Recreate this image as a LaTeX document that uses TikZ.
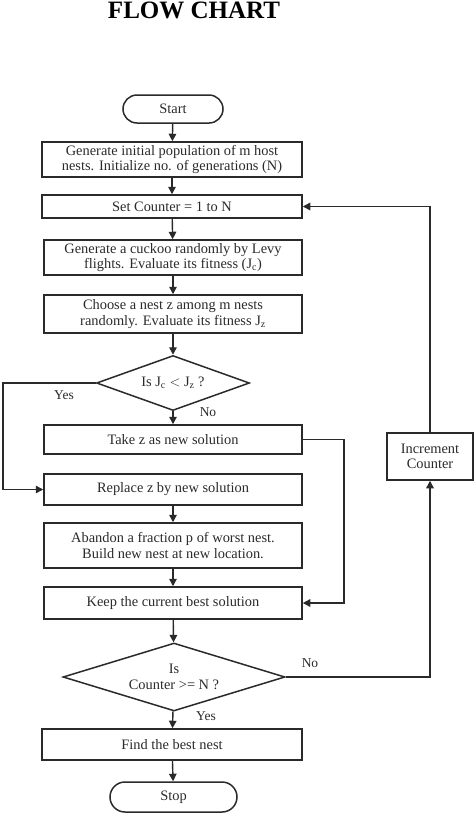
\documentclass[tikz,border=0pt]{standalone}
\usepackage{fontspec}
\setmainfont{Liberation Serif}
\usetikzlibrary{shapes.geometric,shapes.misc,arrows.meta}
\definecolor{ink}{HTML}{2A2A2A}
\begin{document}
\begin{tikzpicture}[x=1pt,y=-1pt,
  every node/.style={text=ink, font=\fontsize{14.4}{15.5}\selectfont},
  box/.style={draw=ink, line width=1.5pt, rectangle, align=center, inner sep=0pt},
  term/.style={draw=ink, line width=1.5pt, rounded rectangle, inner sep=0pt},
  dec/.style={draw=ink, line width=1.5pt, diamond, inner sep=0pt, align=center, aspect=2.8},
  arr/.style={draw=ink, line width=1.4pt, -{Triangle[length=7.5pt,width=7.5pt]}},
  lab/.style={font=\fontsize{13.5}{15}\selectfont}
]
\useasboundingbox (0,0) rectangle (474,815);
\node[font=\fontsize{25}{27}\selectfont\bfseries, text=black, anchor=base] (title) at (194,18) {FLOW CHART};

\node[term, minimum width=100, minimum height=28] (start) at (173,109) {Start};
\node[box, minimum width=260, minimum height=35] (gen) at (172,159.5) {Generate initial population of m host\\nests. Initialize no. of generations (N)};
\node[box, minimum width=260, minimum height=23] (set) at (172,206.5) {Set Counter = 1 to N};
\node[box, minimum width=258, minimum height=35] (cuckoo) at (173,257.5) {Generate a cuckoo randomly by Levy\\flights. Evaluate its fitness (J\textsubscript{c})};
\node[box, minimum width=258, minimum height=38] (choose) at (173,314) {Choose a nest z among m nests\\randomly. Evaluate its fitness J\textsubscript{z}};
\node[dec, minimum width=153, minimum height=55] (d1) at (173,383) {Is J\textsubscript{c} {$<$} J\textsubscript{z} ?};
\node[box, minimum width=258, minimum height=29] (take) at (173,439.5) {Take z as new solution};
\node[box, minimum width=258, minimum height=31] (replace) at (173,489.5) {Replace z by new solution};
\node[box, minimum width=258, minimum height=45] (abandon) at (173,545.5) {Abandon a fraction p of worst nest.\\Build new nest at new location.};
\node[box, minimum width=258, minimum height=32] (keep) at (173,603) {Keep the current best solution};
\node[dec, minimum width=222, minimum height=68] (d2) at (174,677) {Is\\Counter >= N ?};
\node[box, minimum width=260, minimum height=31] (find) at (172,744.5) {Find the best nest};
\node[term, minimum width=127, minimum height=30] (stop) at (173.5,797) {Stop};
\node[box, minimum width=86, minimum height=47] (inc) at (430,456.5) {Increment\\Counter};

\draw[arr] (start) -- (gen);
\draw[arr] (gen) -- (set);
\draw[arr] (set) -- (cuckoo);
\draw[arr] (cuckoo) -- (choose);
\draw[arr] (choose) -- (d1);
\draw[arr] (d1) -- (take);
\draw[arr] (replace) -- (abandon);
\draw[arr] (abandon) -- (keep);
\draw[arr] (keep) -- (d2);
\draw[arr] (d2) -- (find);
\draw[arr] (find) -- (stop);

\coordinate (yl) at (3,383);
\draw[arr] (d1.west) -- (yl) |- (replace.west);
\coordinate (tr) at (344,439.5);
\draw[arr] (take.east) -- (tr) |- (keep.east);
\draw[arr] (d2.east) -| (inc.south);
\draw[arr] (inc.north) |- (set.east);

\node[lab] (yes1) at (64,395) {Yes};
\node[lab] (no1) at (208,412) {No};
\node[lab] (no2) at (310,663) {No};
\node[lab] (yes2) at (206,716) {Yes};
\end{tikzpicture}
\end{document}
